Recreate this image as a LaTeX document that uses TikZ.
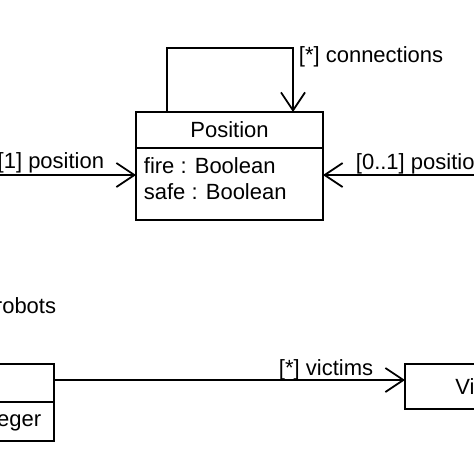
\documentclass[tikz,border=0pt]{standalone}
\usepackage{fontspec}
\setmainfont{Liberation Sans}
\usetikzlibrary{positioning, arrows.meta}
\tikzset{
	classbox/.style={draw, rectangle, inner sep=0pt, outer sep=0pt},
	attr/.style={inner sep=0pt},
	lbl/.style={inner sep=0pt},
	assoc/.style={-{Straight Barb[length=18pt, width=24pt]}}
}

\begin{document}
\begin{tikzpicture}[x=1pt, y=-1pt, line width=1.8pt, font=\fontsize{22}{26}\selectfont]
	\useasboundingbox (0,0) rectangle (474,474);
	\clip (0,0) rectangle (474,474);
	% Position class
	\node[classbox, minimum width=187pt, minimum height=36pt, anchor=north west] (poshead) at (136,112) {Position};
	\node[classbox, minimum width=187pt, minimum height=72pt, below=0pt of poshead] (posbody) {};
	\node[attr, anchor=base west] (fire) at (143,173) {fire : Boolean};
	\node[attr, anchor=base west] (safe) at (143,199) {safe : Boolean};
	% self association
	\draw[assoc] ([xshift=31pt]poshead.north west) -- ++(0,-64) -| ([xshift=157pt]poshead.north west);
	\node[lbl, anchor=base west] (connlbl) at (298,62) {[*] connections};
	% incoming associations
	\coordinate (leftend) at (-40,175);
	\coordinate (rightend) at (520,175);
	\draw[assoc] (leftend) -- (posbody.west |- leftend);
	\draw[assoc] (rightend) -- (posbody.east |- rightend);
	\node[lbl, anchor=base east] (poslbl) at (105,168) {[1] position};
	\node[lbl, anchor=base west] (optlbl) at (355,169) {[0..1] position};
	% lower classes
	\node[classbox, minimum width=194pt, minimum height=38pt, anchor=north east] (robhead) at (54,364) {};
	\node[classbox, minimum width=194pt, minimum height=39pt, below=0pt of robhead] (robbody) {};
	\node[attr, anchor=base east] (robattr) at (42,426) {id : Integer};
	\node[lbl, anchor=base east] (roblbl) at (57,313) {robots};
	\node[classbox, minimum width=160pt, minimum height=45pt, anchor=north west] (victim) at (405,364) {Victim};
	\coordinate (vstart) at ([yshift=3pt]robhead.east);
	\draw[assoc] (vstart) -- (vstart -| victim.west);
	\node[lbl, anchor=base east] (viclbl) at (374,375) {[*] victims};
\end{tikzpicture}
\end{document}
